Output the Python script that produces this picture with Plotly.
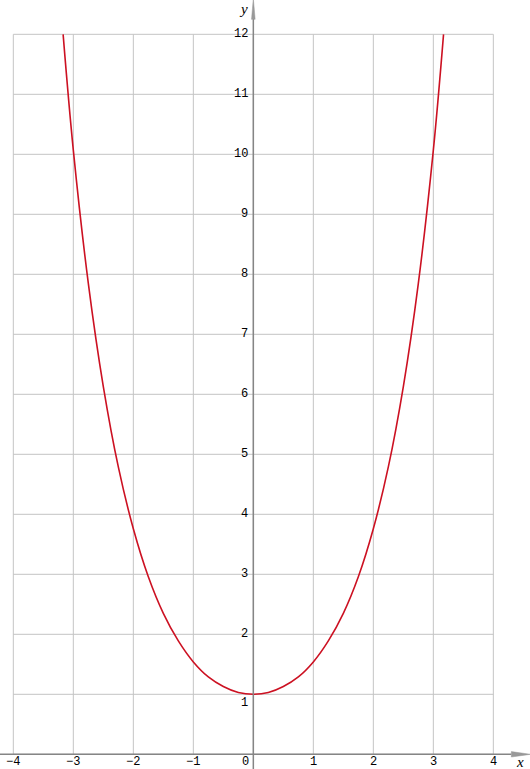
import plotly.graph_objects as go

# curve points
curve_x = [-3.17, -3.0, -2.75, -2.5, -2.25, -2.0, -1.75, -1.5, -1.25, -1.0, -0.75, -0.5, -0.25, 0.0,
           0.25, 0.5, 0.75, 1.0, 1.25, 1.5, 1.75, 2.0, 2.25, 2.5, 2.75, 3.0, 3.17]
curve_y = [12.0, 10.07, 7.85, 6.13, 4.79, 3.76, 2.96, 2.35, 1.89, 1.54, 1.29, 1.13, 1.03, 1.0,
           1.03, 1.13, 1.29, 1.54, 1.89, 2.35, 2.96, 3.76, 4.79, 6.13, 7.85, 10.07, 12.0]

x_ticks = [-4, -3, -2, -1, 1, 2, 3, 4]
x_tick_labels = ["\u22124", "\u22123", "\u22122", "\u22121", "1", "2", "3", "4"]
y_ticks = [1, 2, 3, 4, 5, 6, 7, 8, 9, 10, 11, 12]

xmin, xmax = -4, 4
ymin, ymax = 0, 12

grid_col = "#c4c4c4"
axis_col = "#858585"
font = dict(family="Liberation Mono", size=12, color="black")

fig = go.Figure()
fig.add_trace(go.Scatter(x=curve_x, y=curve_y, mode="lines",
                         line=dict(color="#cc1122", width=1.6, shape="spline", smoothing=1.0),
                         hoverinfo="skip"))

shapes = []
# grid
for gx in range(xmin, xmax + 1):
    shapes.append(dict(type="line", x0=gx, x1=gx, y0=ymin, y1=ymax,
                       line=dict(color=grid_col, width=1), layer="below"))
for gy in range(ymin, ymax + 1):
    shapes.append(dict(type="line", x0=xmin, x1=xmax, y0=gy, y1=gy,
                       line=dict(color=grid_col, width=1), layer="below"))

# axes with arrows
shapes.append(dict(type="line", x0=-4.25, x1=4.3, y0=0, y1=0,
                   line=dict(color=axis_col, width=1.5)))
shapes.append(dict(type="line", x0=0, x1=0, y0=-0.3, y1=12.3,
                   line=dict(color=axis_col, width=1.5)))
shapes.append(dict(type="path", path="M 4.3,-0.045 L 4.62,0 L 4.3,0.045 Z",
                   fillcolor="#999999", line=dict(color="#999999", width=0.5)))
shapes.append(dict(type="path", path="M -0.03,12.25 L 0,12.6 L 0.03,12.25 Z",
                   fillcolor="#999999", line=dict(color="#999999", width=0.5)))

annotations = []
for v, t in zip(x_ticks, x_tick_labels):
    annotations.append(dict(x=v, y=-0.13, text=t, showarrow=False, font=font,
                            xanchor="center", yanchor="middle"))
annotations.append(dict(x=-0.13, y=-0.13, text="0", showarrow=False, font=font,
                        xanchor="center", yanchor="middle"))
for v in y_ticks:
    yy = v if v != 1 else 0.85
    annotations.append(dict(x=-0.06, y=yy, text=str(v), showarrow=False, font=font,
                            xanchor="right", yanchor="middle"))
annotations.append(dict(x=4.45, y=-0.13, text="<i>x</i>", showarrow=False,
                        font=dict(family="Liberation Serif", size=15, color="black"),
                        xanchor="center", yanchor="middle"))
annotations.append(dict(x=-0.16, y=12.42, text="<i>y</i>", showarrow=False,
                        font=dict(family="Liberation Serif", size=15, color="black"),
                        xanchor="center", yanchor="middle"))

fig.update_layout(
    width=530, height=769,
    margin=dict(l=0, r=0, t=0, b=0),
    plot_bgcolor="white", paper_bgcolor="white",
    showlegend=False,
    shapes=shapes,
    annotations=annotations,
    xaxis=dict(range=[-4.222, 4.611], visible=False, fixedrange=True),
    yaxis=dict(range=[-0.245, 12.572], visible=False, fixedrange=True),
)

# the page body has a default margin; drop it so the chart fills the window
fig.write_html("out.html", config={"displayModeBar": False},
               post_script="document.body.style.margin='0';document.body.style.overflow='hidden';")
